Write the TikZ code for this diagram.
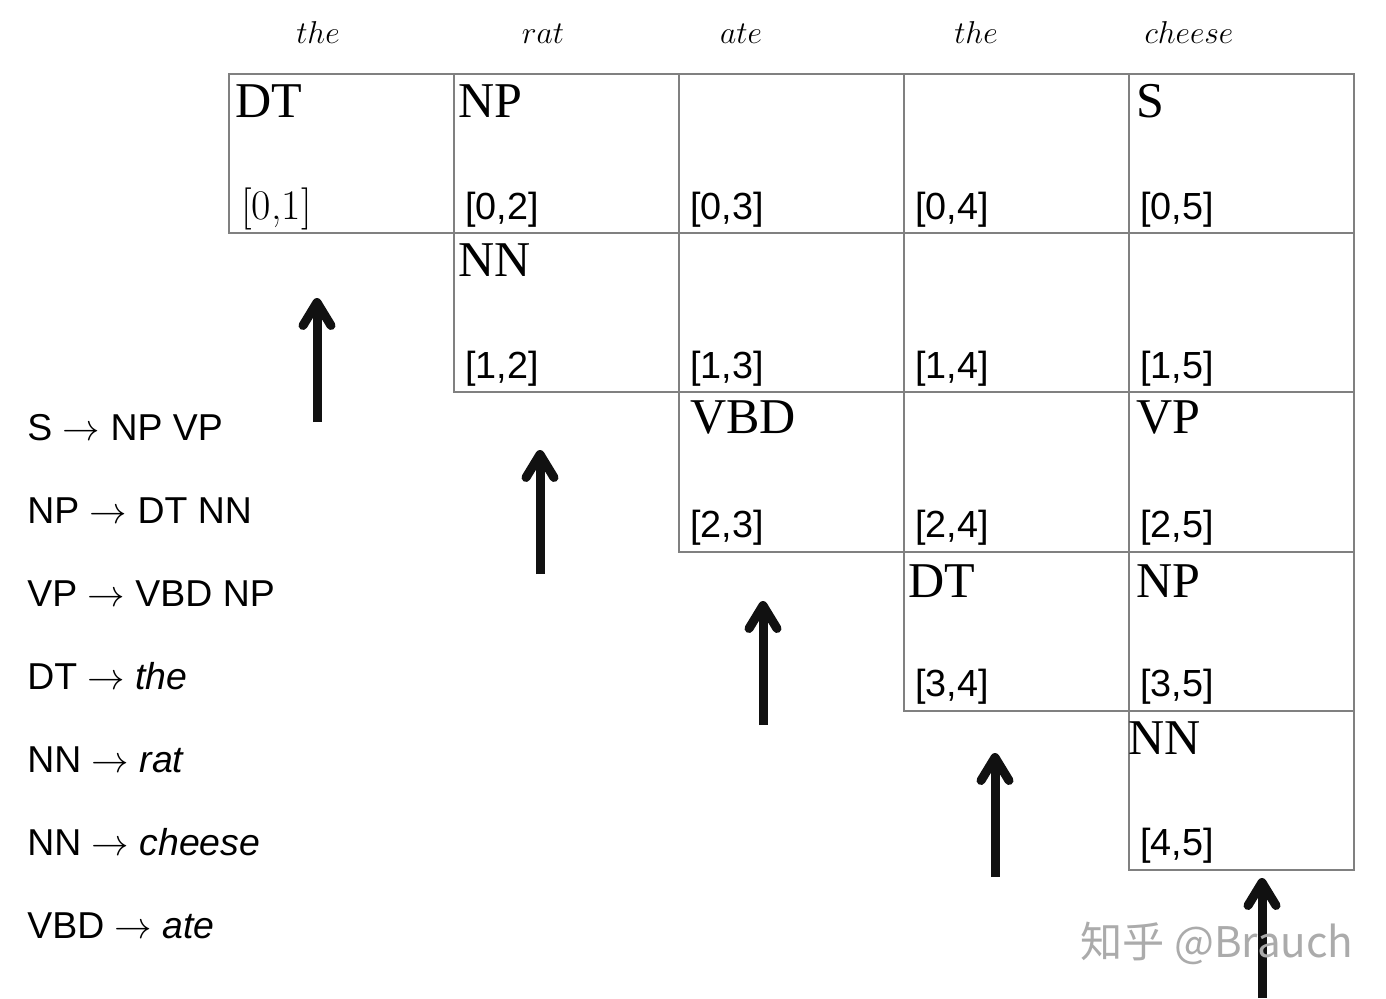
\RequirePackage{fix-cm}
\documentclass[tikz,border=0pt]{standalone}
\usepackage{fontspec}
\newfontfamily\rulefont{Liberation Sans}
\newfontfamily\cellfont{Liberation Serif}
\newfontfamily\markfont{Noto Sans CJK SC}
\usetikzlibrary{positioning}
\usetikzlibrary{arrows.meta, calc}
\definecolor{gridLine}{HTML}{808080}
\definecolor{inkArrow}{HTML}{111111}
\definecolor{markGray}{HTML}{ABABAB}

\begin{document}
\begin{tikzpicture}[
		x=0.02cm, y=-0.02cm,
		% Chart styles
		cell/.style={rectangle, draw=gridLine, line width=0.04cm, minimum width=4.5cm, minimum height=3.184cm, inner sep=0pt},
		tag/.style={anchor=base west, inner sep=0pt, font=\cellfont\fontsize{28.5}{30}\selectfont},
		span/.style={anchor=base west, inner sep=0pt, font=\rulefont\fontsize{21.5}{24}\selectfont},
		word/.style={anchor=base, inner sep=0pt, font=\fontsize{18}{20}\selectfont},
		rulebox/.style={anchor=base west, inner sep=0pt, font=\rulefont\fontsize{21.3}{24}\selectfont},
		uparrow/.style={-{Straight Barb[round, length=0.46cm, width=0.56cm]}, line width=0.18cm, inkArrow}
		]
		\useasboundingbox (0,0) rectangle (1386,998);
		
		%% ================= WORDS =================
		\node[word] (w1) at (318,43) {$the$};
		\node[word] (w2) at (543,43) {$rat$};
		\node[word] (w3) at (741,43) {$ate$};
		\node[word] (w4) at (976,43) {$the$};
		\node[word] (w5) at (1189,43) {$cheese$};
		
		%% ================= CHART =================
		\node[cell] (c01) at (341.5,153.6) {};
		\node[cell] (c02) at (566.5,153.6) {};
		\node[cell] (c03) at (791.5,153.6) {};
		\node[cell] (c04) at (1016.5,153.6) {};
		\node[cell] (c05) at (1241.5,153.6) {};
		\node[cell] (c12) at (566.5,312.8) {};
		\node[cell] (c13) at (791.5,312.8) {};
		\node[cell] (c14) at (1016.5,312.8) {};
		\node[cell] (c15) at (1241.5,312.8) {};
		\node[cell] (c23) at (791.5,472) {};
		\node[cell] (c24) at (1016.5,472) {};
		\node[cell] (c25) at (1241.5,472) {};
		\node[cell] (c34) at (1016.5,631.2) {};
		\node[cell] (c35) at (1241.5,631.2) {};
		\node[cell] (c45) at (1241.5,790.4) {};
		
		% Categories
		\node[tag] (t01) at ($(c01.north west)+(7,44)$) {DT};
		\node[tag] (t02) at ($(c02.north west)+(5,44)$) {NP};
		\node[tag] (t05) at ($(c05.north west)+(8,44)$) {S};
		\node[tag] (t12) at ($(c12.north west)+(5,44)$) {NN};
		\node[tag] (t23) at ($(c23.north west)+(12,42)$) {VBD};
		\node[tag] (t25) at ($(c25.north west)+(8,42)$) {VP};
		\node[tag] (t34) at ($(c34.north west)+(5,47)$) {DT};
		\node[tag] (t35) at ($(c35.north west)+(8,47)$) {NP};
		\node[tag] (t45) at ($(c45.north west)+(0,45)$) {NN};
		
		% Spans
		\node[span, font=\fontsize{24}{26}\selectfont] (s01) at ($(c01.north west)+(13,146)$) {[0,1]};
		\node[span] (s02) at ($(c02.north west)+(12,146)$) {[0,2]};
		\node[span] (s03) at ($(c03.north west)+(12,146)$) {[0,3]};
		\node[span] (s04) at ($(c04.north west)+(12,146)$) {[0,4]};
		\node[span] (s05) at ($(c05.north west)+(12,146)$) {[0,5]};
		\node[span] (s12) at ($(c12.north west)+(12,146)$) {[1,2]};
		\node[span] (s13) at ($(c13.north west)+(12,146)$) {[1,3]};
		\node[span] (s14) at ($(c14.north west)+(12,146)$) {[1,4]};
		\node[span] (s15) at ($(c15.north west)+(12,146)$) {[1,5]};
		\node[span] (s23) at ($(c23.north west)+(12,146)$) {[2,3]};
		\node[span] (s24) at ($(c24.north west)+(12,146)$) {[2,4]};
		\node[span] (s25) at ($(c25.north west)+(12,146)$) {[2,5]};
		\node[span] (s34) at ($(c34.north west)+(12,146)$) {[3,4]};
		\node[span] (s35) at ($(c35.north west)+(12,146)$) {[3,5]};
		\node[span] (s45) at ($(c45.north west)+(12,146)$) {[4,5]};
		
		%% ================= GRAMMAR =================
		\node[rulebox] (r1) at (27,440) {S $\rightarrow$ NP VP};
		\node[rulebox] (r2) at (27,523) {NP $\rightarrow$ DT NN};
		\node[rulebox] (r3) at (27,606) {VP $\rightarrow$ VBD NP};
		\node[rulebox] (r4) at (27,689) {DT $\rightarrow$ \itshape the};
		\node[rulebox] (r5) at (27,772) {NN $\rightarrow$ \itshape rat};
		\node[rulebox] (r6) at (27,855) {NN $\rightarrow$ \itshape cheese};
		\node[rulebox] (r7) at (27,938) {VBD $\rightarrow$ \itshape ate};
		
		%% ================= ARROWS =================
		\coordinate (base1) at (317,422);  \coordinate (tip1) at (317,298);
		\coordinate (base2) at (540,574);  \coordinate (tip2) at (540,450);
		\coordinate (base3) at (763,725);  \coordinate (tip3) at (763,601);
		\coordinate (base4) at (995,877);  \coordinate (tip4) at (995,753);
		\coordinate (base5) at (1262,998); \coordinate (tip5) at (1262,878);
		
		\draw[uparrow] (base1) -- (tip1);
		\draw[uparrow] (base2) -- (tip2);
		\draw[uparrow] (base3) -- (tip3);
		\draw[uparrow] (base4) -- (tip4);
		\draw[uparrow] (base5) -- (tip5);
		
		% Watermark
		\node[anchor=base west, inner sep=0pt, markGray, font=\markfont\fontsize{24}{28}\selectfont] (mark) at (1080,957) {知乎 @Brauch};
		
\end{tikzpicture}
\end{document}
